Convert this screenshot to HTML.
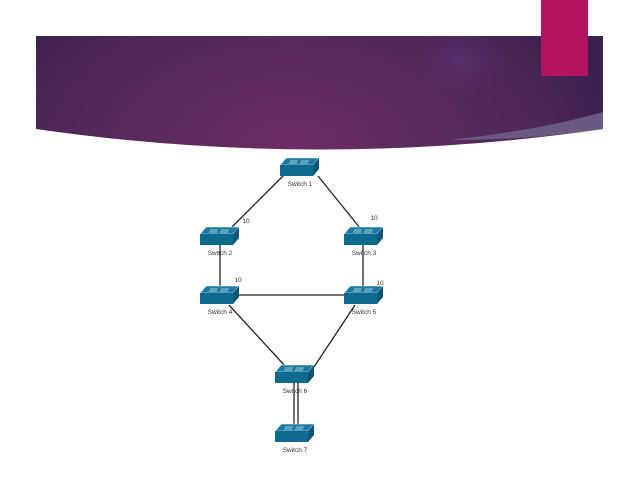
<!DOCTYPE html>
<html><head><style>body{margin:0;width:638px;height:478px;background:#fff;overflow:hidden}</style></head><body>
<svg width="638" height="478" viewBox="0 0 638 478" xmlns="http://www.w3.org/2000/svg" font-family="Liberation Sans, sans-serif">
<defs>
<radialGradient id="g" gradientUnits="userSpaceOnUse" cx="290" cy="150" r="330" gradientTransform="translate(290 150) scale(1 0.6) translate(-290 -150)">
<stop offset="0" stop-color="#6c2c62"/><stop offset="0.5" stop-color="#5a2a5c"/><stop offset="0.85" stop-color="#472455"/><stop offset="1" stop-color="#3a2150"/>
</radialGradient>
<radialGradient id="h" cx="0.5" cy="0.5" r="0.5">
<stop offset="0" stop-color="#5a3378" stop-opacity="0.6"/><stop offset="1" stop-color="#5a3378" stop-opacity="0"/>
</radialGradient>
<clipPath id="c"><path d="M36,36 H603 V129 Q320,170 36,129 Z"/></clipPath>
<g id="sw">
<polygon points="-19,-2 -13,-9 20,-9 14,-2" fill="#1a7aa3" stroke="#fff" stroke-width="0.6"/>
<rect x="-19" y="-2" width="33" height="11" fill="#0f6a90"/>
<polygon points="14,-2 20,-9 20,2 14,9" fill="#0b5676"/>
<path d="M-9,-6 h8 M2,-6 h8 M-10,-4 h8 M1,-4 h8" stroke="#cfe6f0" stroke-width="0.7"/>
</g>
</defs>
<path d="M36,36 H603 V129 Q320,170 36,129 Z" fill="url(#g)"/>
<ellipse cx="460" cy="62" rx="45" ry="35" fill="url(#h)" clip-path="url(#c)"/>
<path d="M450,140 Q540,130 603,112 V129 Q530,140 450,140Z" fill="#6a5a80"/>
<rect x="541" y="0" width="47" height="76" fill="#b5135f"/>
<g stroke="#222" stroke-width="1.3" fill="none">
<line x1="283" y1="176" x2="232" y2="227"/>
<line x1="318" y1="176" x2="360" y2="228"/>
<line x1="220" y1="244" x2="220" y2="288"/>
<line x1="363" y1="244" x2="363" y2="288"/>
<line x1="233" y1="295" x2="347" y2="295"/>
<line x1="229" y1="305" x2="286" y2="367"/>
<line x1="355" y1="305" x2="314" y2="367"/>
<line x1="294" y1="382" x2="294" y2="428"/>
<line x1="298" y1="382" x2="298" y2="428"/>
</g>
<use href="#sw" x="299" y="167"/>
<use href="#sw" x="219" y="236"/>
<use href="#sw" x="363" y="236"/>
<use href="#sw" x="219" y="295"/>
<use href="#sw" x="363" y="295"/>
<use href="#sw" x="294" y="374"/>
<use href="#sw" x="294" y="433"/>
<g font-size="6.5" fill="#333" text-anchor="middle">
<text x="300" y="186">Switch 1</text>
<text x="220" y="255">Switch 2</text>
<text x="364" y="255">Switch 3</text>
<text x="220" y="314">Switch 4</text>
<text x="364" y="314">Switch 5</text>
<text x="295" y="393">Switch 6</text>
<text x="295" y="452">Switch 7</text>
<text x="246" y="223">10</text>
<text x="374" y="220">10</text>
<text x="238" y="282">10</text>
<text x="380" y="285">10</text>
</g>
</svg>
</body></html>
